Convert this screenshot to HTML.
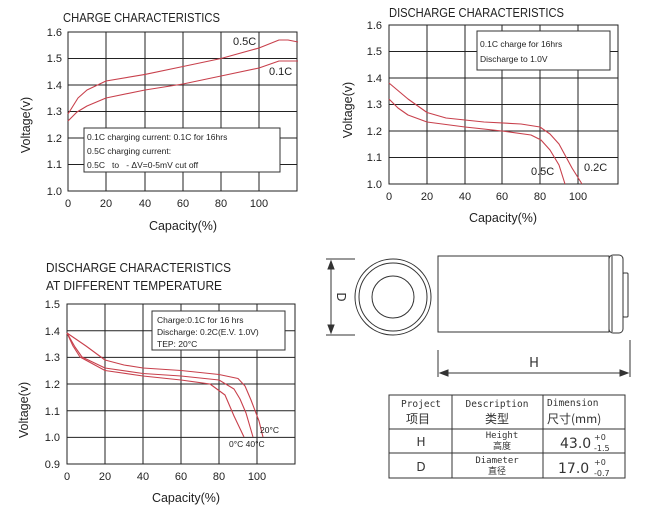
<!DOCTYPE html>
<html><head><meta charset="utf-8"><style>
html,body{margin:0;padding:0;background:#fff;}
svg{display:block;font-family:"Liberation Sans",Arial,sans-serif;}
</style></head><body>
<svg width="650" height="514" viewBox="0 0 650 514" xmlns="http://www.w3.org/2000/svg">
<g stroke="#222" stroke-width="1" fill="none">
<!-- chart1 grid -->
<rect x="68" y="32" width="229" height="159"/>
<path d="M106 32V191M145 32V191M183 32V191M221 32V191M259 32V191M68 58.5H297M68 85H297M68 111.5H297M68 138H297M68 164.5H297"/>
<!-- chart2 grid -->
<rect x="389" y="25" width="229" height="159"/>
<path d="M427 25V184M465 25V184M502 25V184M540 25V184M578 25V184M389 51.5H618M389 78H618M389 104.5H618M389 131H618M389 157.5H618"/>
<!-- chart3 grid -->
<rect x="67" y="304" width="228" height="160"/>
<path d="M105 304V464M143 304V464M181 304V464M219 304V464M257 304V464M67 330.7H295M67 357.4H295M67 384H295M67 410.7H295M67 437.4H295"/>
</g>
<!-- boxes -->
<rect x="84" y="128" width="196" height="44" fill="#fff" stroke="#333"/>
<rect x="477" y="31" width="133" height="39" fill="#fff" stroke="#333"/>
<rect x="152" y="311" width="133" height="39" fill="#fff" stroke="#333"/>
<!-- curves -->
<g stroke="#c8404c" stroke-width="1.1" fill="none" stroke-linejoin="round">
<polyline points="68,114 78,98 87,90 106,81 145,74.4 183,66.5 221,58.5 259,48 279,40 288,40 298,42"/>
<polyline points="68,121 77,112 87,106 106,98 145,90 183,84 221,76 259,68 279,61 298,61"/>
<polyline points="389,83 408,99 427,112.5 446,118 484,122 521,124 540,127 550,134 559,144 572,168 582,184"/>
<polyline points="389,99 398,108 408,115 427,122 465,127 502,131 531,135 541,140 550,150 559,165 565,184"/>
<polyline points="67,333 86,346 105,360 124,365 143,368 181,370.5 219,374.5 238,378.5 245,386 251,400 259,421 263,437"/>
<polyline points="67,333 75,347 82,357 105,368 143,373.5 181,376 219,380 234,389 240,399 246,413 253,437"/>
<polyline points="67,333 73,346 80,357 105,370.5 143,376 181,380 210,384 225,395 234,416 244,437"/>
</g>
<g fill="#222" font-size="11">
<!-- chart1 ticks -->
<g text-anchor="end"><text x="62" y="36">1.6</text><text x="62" y="62">1.5</text><text x="62" y="89">1.4</text><text x="62" y="115">1.3</text><text x="62" y="142">1.2</text><text x="62" y="168">1.1</text><text x="62" y="195">1.0</text></g>
<g text-anchor="middle"><text x="68" y="207">0</text><text x="106" y="207">20</text><text x="145" y="207">40</text><text x="183" y="207">60</text><text x="221" y="207">80</text><text x="259" y="207">100</text></g>
<text x="63" y="22" font-size="12.5" textLength="157" lengthAdjust="spacingAndGlyphs">CHARGE CHARACTERISTICS</text>
<text x="233" y="45">0.5C</text><text x="269" y="75">0.1C</text>
<text x="183" y="230" font-size="12.5" text-anchor="middle">Capacity(%)</text>
<text transform="translate(30,125) rotate(-90)" font-size="12.5" text-anchor="middle">Voltage(v)</text>
<g font-size="8.5"><text x="87" y="140">0.1C charging current: 0.1C for 16hrs</text><text x="87" y="154">0.5C charging current:</text><text x="87" y="168">0.5C &#160;&#160;to &#160;&#160;- ΔV=0-5mV cut off</text></g>
<!-- chart2 -->
<g text-anchor="end"><text x="382" y="29">1.6</text><text x="382" y="55">1.5</text><text x="382" y="82">1.4</text><text x="382" y="108">1.3</text><text x="382" y="135">1.2</text><text x="382" y="161">1.1</text><text x="382" y="188">1.0</text></g>
<g text-anchor="middle"><text x="389" y="200">0</text><text x="427" y="200">20</text><text x="465" y="200">40</text><text x="502" y="200">60</text><text x="540" y="200">80</text><text x="578" y="200">100</text></g>
<text x="389" y="17" font-size="12.5" textLength="175" lengthAdjust="spacingAndGlyphs">DISCHARGE CHARACTERISTICS</text>
<text x="531" y="175">0.5C</text><text x="584" y="171">0.2C</text>
<text x="503" y="222" font-size="12.5" text-anchor="middle">Capacity(%)</text>
<text transform="translate(352,110) rotate(-90)" font-size="12.5" text-anchor="middle">Voltage(v)</text>
<g font-size="8.5"><text x="480" y="47">0.1C charge for 16hrs</text><text x="480" y="62">Discharge to 1.0V</text></g>
<!-- chart3 -->
<g text-anchor="end"><text x="60" y="308">1.5</text><text x="60" y="335">1.4</text><text x="60" y="361">1.3</text><text x="60" y="388">1.2</text><text x="60" y="415">1.1</text><text x="60" y="441">1.0</text><text x="60" y="468">0.9</text></g>
<g text-anchor="middle"><text x="67" y="480">0</text><text x="105" y="480">20</text><text x="143" y="480">40</text><text x="181" y="480">60</text><text x="219" y="480">80</text><text x="257" y="480">100</text></g>
<text x="46" y="272" font-size="12.5" textLength="185" lengthAdjust="spacingAndGlyphs">DISCHARGE CHARACTERISTICS</text>
<text x="46" y="290" font-size="12.5" textLength="176" lengthAdjust="spacingAndGlyphs">AT DIFFERENT TEMPERATURE</text>
<text x="186" y="502" font-size="12.5" text-anchor="middle">Capacity(%)</text>
<text transform="translate(28,410) rotate(-90)" font-size="12.5" text-anchor="middle">Voltage(v)</text>
<g font-size="8.5"><text x="157" y="323">Charge:0.1C for 16 hrs</text><text x="157" y="335">Discharge: 0.2C(E.V. 1.0V)</text><text x="157" y="347">TEP: 20°C</text>
<text x="260" y="433">20°C</text><text x="229" y="447">0°C 40°C</text></g>
</g>
<!-- diagram -->
<g stroke="#333" stroke-width="1" fill="none">
<circle cx="393" cy="297" r="38"/><circle cx="393" cy="297" r="34"/><circle cx="393" cy="297" r="21"/>
<path d="M326 259H355M326 335H355M331 261V333"/>
<path d="M331 261l-3 8h6z M331 333l-3 -8h6z" fill="#333"/>
<rect x="438" y="256" width="171" height="76"/>
<rect x="609" y="255" width="14" height="78" rx="4"/>
<path d="M612 256V332"/>
<rect x="623" y="273" width="5" height="44" rx="1"/>
<path d="M438 350V377M630 340V377M440 373H628"/>
<path d="M440 373l8 -3v6z M628 373l-8 -3v6z" fill="#333"/>
<rect x="389" y="395" width="236" height="83"/>
<path d="M389 429H625M389 453H625M452 395V478M543 395V478"/>
</g>
<g fill="#333" font-family="'DejaVu Sans Mono','Liberation Mono','Noto Sans CJK SC',monospace">
<text x="534" y="367" font-size="13" text-anchor="middle" font-family="'DejaVu Sans',sans-serif">H</text>
<text transform="translate(337,297) rotate(90)" font-size="12" text-anchor="middle" font-family="'DejaVu Sans',sans-serif">D</text>
<text x="421" y="407" font-size="9.5" text-anchor="middle">Project</text>
<text x="418" y="423" font-size="12" text-anchor="middle" font-family="'Noto Sans CJK SC',sans-serif">项目</text>
<text x="497" y="407" font-size="9.5" text-anchor="middle">Description</text>
<text x="497" y="423" font-size="12" text-anchor="middle" font-family="'Noto Sans CJK SC',sans-serif">类型</text>
<text x="547" y="406" font-size="9.5">Dimension</text>
<text x="547" y="423" font-size="12" font-family="'Noto Sans CJK SC',sans-serif">尺寸(mm)</text>
<text x="421" y="446" font-size="12" text-anchor="middle" font-family="'DejaVu Sans',sans-serif">H</text>
<text x="421" y="471" font-size="12" text-anchor="middle" font-family="'DejaVu Sans',sans-serif">D</text>
<text x="502" y="438" font-size="9" text-anchor="middle">Height</text>
<text x="502" y="449" font-size="9" text-anchor="middle" font-family="'Noto Sans CJK SC',sans-serif">高度</text>
<text x="497" y="463" font-size="9" text-anchor="middle">Diameter</text>
<text x="497" y="474" font-size="9" text-anchor="middle" font-family="'Noto Sans CJK SC',sans-serif">直径</text>
<g font-family="'DejaVu Sans',sans-serif">
<text x="560" y="448" font-size="14">43.0</text><text x="594" y="440" font-size="8">+0</text><text x="594" y="451" font-size="8">-1.5</text>
<text x="558" y="473" font-size="14">17.0</text><text x="594" y="465" font-size="8">+0</text><text x="594" y="476" font-size="8">-0.7</text>
</g>
</g>
</svg>
</body></html>
